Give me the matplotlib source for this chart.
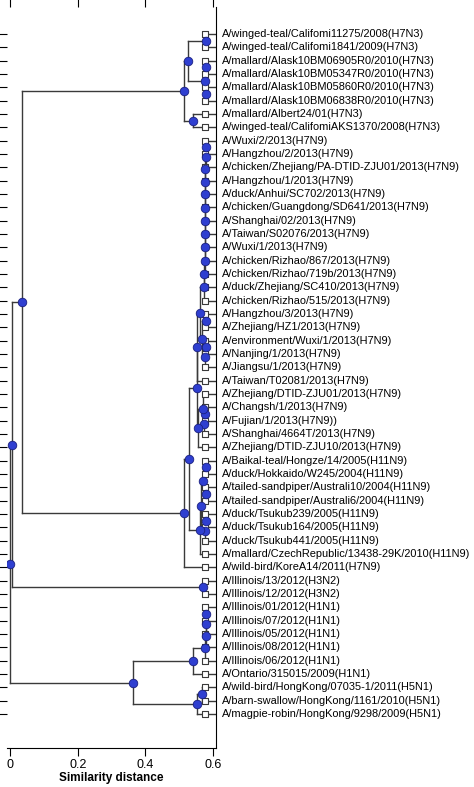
import matplotlib.pyplot as plt

plt.rcParams['font.family'] = ['Liberation Sans', 'DejaVu Sans']

labels = [
    "A/winged-teal/Califomi11275/2008(H7N3)",
    "A/winged-teal/Califomi1841/2009(H7N3)",
    "A/mallard/Alask10BM06905R0/2010(H7N3)",
    "A/mallard/Alask10BM05347R0/2010(H7N3)",
    "A/mallard/Alask10BM05860R0/2010(H7N3)",
    "A/mallard/Alask10BM06838R0/2010(H7N3)",
    "A/mallard/Albert24/01(H7N3)",
    "A/winged-teal/CalifomiAKS1370/2008(H7N3)",
    "A/Wuxi/2/2013(H7N9)",
    "A/Hangzhou/2/2013(H7N9)",
    "A/chicken/Zhejiang/PA-DTID-ZJU01/2013(H7N9)",
    "A/Hangzhou/1/2013(H7N9)",
    "A/duck/Anhui/SC702/2013(H7N9)",
    "A/chicken/Guangdong/SD641/2013(H7N9)",
    "A/Shanghai/02/2013(H7N9)",
    "A/Taiwan/S02076/2013(H7N9)",
    "A/Wuxi/1/2013(H7N9)",
    "A/chicken/Rizhao/867/2013(H7N9)",
    "A/chicken/Rizhao/719b/2013(H7N9)",
    "A/duck/Zhejiang/SC410/2013(H7N9)",
    "A/chicken/Rizhao/515/2013(H7N9)",
    "A/Hangzhou/3/2013(H7N9)",
    "A/Zhejiang/HZ1/2013(H7N9)",
    "A/environment/Wuxi/1/2013(H7N9)",
    "A/Nanjing/1/2013(H7N9)",
    "A/Jiangsu/1/2013(H7N9)",
    "A/Taiwan/T02081/2013(H7N9)",
    "A/Zhejiang/DTID-ZJU01/2013(H7N9)",
    "A/Changsh/1/2013(H7N9)",
    "A/Fujian/1/2013(H7N9))",
    "A/Shanghai/4664T/2013(H7N9)",
    "A/Zhejiang/DTID-ZJU10/2013(H7N9)",
    "A/Baikal-teal/Hongze/14/2005(H11N9)",
    "A/duck/Hokkaido/W245/2004(H11N9)",
    "A/tailed-sandpiper/Australi10/2004(H11N9)",
    "A/tailed-sandpiper/Australi6/2004(H11N9)",
    "A/duck/Tsukub239/2005(H11N9)",
    "A/duck/Tsukub164/2005(H11N9)",
    "A/duck/Tsukub441/2005(H11N9)",
    "A/mallard/CzechRepublic/13438-29K/2010(H11N9)",
    "A/wild-bird/KoreA14/2011(H7N9)",
    "A/Illinois/13/2012(H3N2)",
    "A/Illinois/12/2012(H3N2)",
    "A/Illinois/01/2012(H1N1)",
    "A/Illinois/07/2012(H1N1)",
    "A/Illinois/05/2012(H1N1)",
    "A/Illinois/08/2012(H1N1)",
    "A/Illinois/06/2012(H1N1)",
    "A/Ontario/315015/2009(H1N1)",
    "A/wild-bird/HongKong/07035-1/2011(H5N1)",
    "A/barn-swallow/HongKong/1161/2010(H5N1)",
    "A/magpie-robin/HongKong/9298/2009(H5N1)",
]
leaf_dist = 0.577

# merges: (name, left child, right child, distance); ints are leaves
merges = [
    ("a01", 0, 1, 0.578), ("a23", 2, 3, 0.578), ("a45", 4, 5, 0.579),
    ("a25", "a23", "a45", 0.575), ("a05", "a01", "a25", 0.526),
    ("a67", 6, 7, 0.54), ("A", "a05", "a67", 0.515),
    ("c1", 8, 9, 0.578), ("c2", "c1", 10, 0.578), ("c3", "c2", 11, 0.577),
    ("c4", "c3", 12, 0.577), ("c5", "c4", 13, 0.577), ("c6", "c5", 14, 0.577),
    ("c7", "c6", 15, 0.576), ("c8", "c7", 16, 0.575), ("c9", "c8", 17, 0.576),
    ("c10", "c9", 18, 0.575), ("c11", "c10", 19, 0.574), ("c12", "c11", 20, 0.574),
    ("d1", 21, 22, 0.578), ("d2", 23, 24, 0.578), ("d3", "d2", 25, 0.577),
    ("d4", "d1", "d3", 0.567), ("d5", "c12", "d4", 0.562), ("d6", "d5", 26, 0.553),
    ("e1", 28, 29, 0.576), ("e2", "e1", 30, 0.573), ("e3", 27, "e2", 0.571),
    ("e4", "e3", 31, 0.557), ("H7N9", "d6", "e4", 0.553),
    ("f1", 32, 33, 0.578), ("f2", 34, 35, 0.579), ("f3", "f1", "f2", 0.572),
    ("f4", 36, 37, 0.58), ("f5", "f4", 38, 0.575), ("f6", "f3", "f5", 0.565),
    ("f7", "f6", 39, 0.562), ("B1", "H7N9", "f7", 0.528), ("B", "B1", 40, 0.515),
    ("AB", "A", "B", 0.036),
    ("g1", 41, 42, 0.57), ("ABG", "AB", "g1", 0.006),
    ("h1", 43, 44, 0.579), ("h2", "h1", 45, 0.579), ("h3", "h2", 46, 0.578),
    ("h4", "h3", 47, 0.577), ("h5", "h4", 48, 0.54),
    ("k1", 49, 50, 0.568), ("k2", "k1", 51, 0.553), ("HK", "h5", "k2", 0.364),
    ("root", "ABG", "HK", 0.0),
]

xticks = [0, 0.2, 0.4, 0.6]
line_color = "#3a3a3a"

fig = plt.figure(figsize=(4.74, 7.87), dpi=100)
ax = fig.add_axes([0.0148, 0.0496, 0.4409, 0.9415])

pos = {i: (leaf_dist, i) for i in range(len(labels))}
for name, left, right, dist in merges:
    (xl, yl), (xr, yr) = pos[left], pos[right]
    y = (yl + yr) / 2
    ax.plot([dist, dist], [yl, yr], color=line_color, lw=1, zorder=1)
    ax.plot([dist, xl], [yl, yl], color=line_color, lw=1, zorder=1)
    ax.plot([dist, xr], [yr, yr], color=line_color, lw=1, zorder=1)
    pos[name] = (dist, y)

xmax = 0.609
for i in range(len(labels)):
    ax.plot([leaf_dist, xmax], [i, i], color=line_color, lw=1, zorder=1)
ax.scatter([leaf_dist] * len(labels), range(len(labels)), marker="s", s=14,
           facecolor="white", edgecolor=line_color, linewidth=0.8, zorder=3)
node_x = [pos[m[0]][0] for m in merges]
node_y = [pos[m[0]][1] for m in merges]
ax.scatter(node_x, node_y, s=38, color="#2f3fd0", edgecolor="#1a2080",
           linewidth=0.6, zorder=4)

for i, lab in enumerate(labels):
    ax.text(xmax + 0.018, i, lab, va="center", ha="left", fontsize=7.9,
            clip_on=False)

ax.set_xlim(-0.009, xmax)
ax.set_ylim(53.55, -2.03)
ax.set_yticks(range(len(labels)))
ax.set_yticklabels([])
ax.set_xticks(xticks)
ax.set_xticklabels(["0", "0.2", "0.4", "0.6"], fontsize=9)
ax.tick_params(axis="x", top=True, length=6, direction="out", pad=2)
ax.tick_params(axis="y", length=6, direction="out")
ax.spines["left"].set_visible(False)
ax.spines["top"].set_visible(False)
ax.set_xlabel("Similarity distance", fontsize=8.5, fontweight="bold", labelpad=1)

fig.savefig("out.png", dpi=100)
